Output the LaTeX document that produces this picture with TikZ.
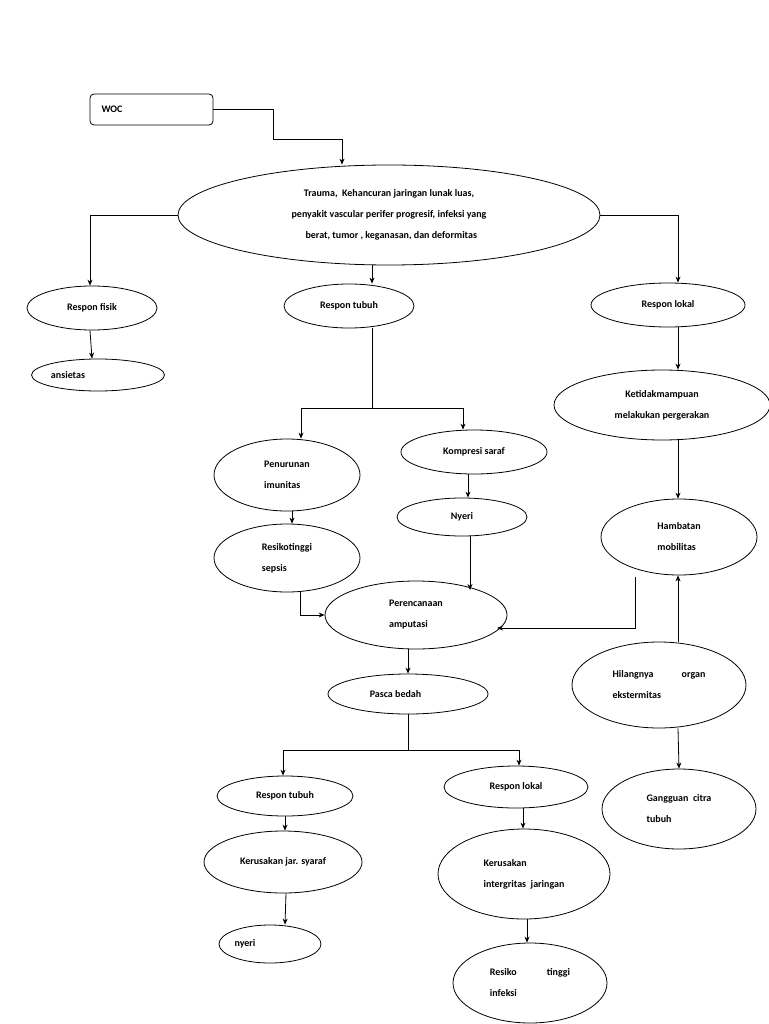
\documentclass[tikz,border=0pt]{standalone}
\usepackage{fontspec}
\setmainfont{Carlito}
\usetikzlibrary{shapes.geometric,arrows.meta}
\begin{document}
\begin{tikzpicture}[x=1pt,y=-1pt,
  el/.style={draw,ellipse,minimum width=2*#1,inner sep=0pt,font=\fontsize{10}{21}\selectfont\bfseries,align=left},
  ar/.style={-{Stealth[length=6pt,width=5pt]},line width=0.8pt},
  ln/.style={line width=0.8pt}]
\useasboundingbox (0,0) rectangle (768,1024);
\tikzset{every node/.append style={line width=0.8pt}}
\node[draw,rounded corners=4pt,minimum width=123,minimum height=31,font=\fontsize{10}{12}\selectfont\bfseries,text width=100] (woc) at (151.5,109.5) {WOC};
\node[el=211,minimum height=100,align=center] (tr) at (389,215) {Trauma,\ \ Kehancuran jaringan lunak luas,\\ penyakit vascular perifer progresif, infeksi yang\\ \ \ berat, tumor , keganasan, dan deformitas};
\node[el=65,minimum height=44] (rf) at (92,308) {Respon fisik};
\node[el=64,minimum height=32] (an) at (98,375) {ansietas\hspace{60pt}};
\node[el=65,minimum height=44] (rt) at (349,306) {Respon tubuh};
\node[el=77,minimum height=44] (rl) at (668,305) {Respon lokal};
\node[el=108,minimum height=70,align=center] (kt) at (662,405) {Ketidakmampuan\\melakukan pergerakan};
\node[el=73,minimum height=72] (pi) at (287,475) {Penurunan\hspace{40pt}\\imunitas};
\node[el=73,minimum height=44] (ks) at (474,452) {Kompresi saraf};
\node[el=65,minimum height=38] (ny) at (462,517) {Nyeri};
\node[el=73,minimum height=68] (rs) at (287,558) {Resikotinggi\hspace{35pt}\\sepsis};
\node[el=78,minimum height=76] (hm) at (679,537) {Hambatan\hspace{35pt}\\mobilitas};
\node[el=91,minimum height=68] (pa) at (416,615) {Perencanaan\hspace{40pt}\\amputasi};
\node[el=87,minimum height=86] (hi) at (659,685) {Hilangnya\hspace{28pt}organ\\ekstermitas};
\node[el=80,minimum height=40] (pb) at (408,694) {Pasca bedah\hspace{25pt}};
\node[el=77,minimum height=80] (gc) at (679,809) {Gangguan\ \ citra\\tubuh};
\node[el=68,minimum height=40] (rt2) at (285,796) {Respon tubuh};
\node[el=72,minimum height=42] (rl2) at (516,787) {Respon lokal};
\node[el=79,minimum height=62] (kj) at (283,862) {Kerusakan jar. syaraf};
\node[el=86,minimum height=90] (ki) at (524,874) {Kerusakan\\intergritas\ \ jaringan};
\node[el=51,minimum height=38] (n2) at (270,944) {nyeri\hspace{50pt}};
\node[el=77,minimum height=80] (ri) at (530,983) {Resiko\hspace{30pt}tinggi\\infeksi};
\coordinate (c1) at (372,408);
\coordinate (c2) at (408,750);
\draw[ar] (woc.east) -- ++(60,0) |- (342,139) -- (tr.north -| 342,0);
\draw[ar] (tr.west) -| (rf.north -| 90,0);
\draw[ar] (tr.east) -| (rl.north -| 678,0);
\draw[ar] (tr.south -| 372,0) -- (rt.north -| 372,0);
\draw[ar] (rf.south -| 90,0) -- (an.north -| 92,0);
\draw[ln] (rt.south -| 372,0) -- (c1);
\draw[ar] (c1) -| (pi.north -| 301,0);
\draw[ar] (c1) -| (ks.north -| 463,0);
\draw[ar] (ks.south -| 468,0) -- (ny.north -| 468,0);
\draw[ar] (pi.south -| 292,0) -- (rs.north -| 292,0);
\draw[ar] (rs.south -| 300,0) |- (pa.west);
\draw[ar] (ny.south -| 470,0) -- (470,590);
\draw[ar] (rl.south -| 678,0) -- (kt.north -| 678,0);
\draw[ar] (kt.south -| 678,0) -- (hm.north -| 678,0);
\draw[ar] (635,577) |- (497,628);
\draw[ar] (hi.north -| 678,0) -- (hm.south -| 678,0);
\draw[ar] (hi.south -| 678,0) -- (gc.north -| 679,0);
\draw[ar] (pa.south -| 408,0) -- (pb.north);
\draw[ln] (pb.south) -- (c2);
\draw[ar] (c2) -| (rt2.north -| 283,0);
\draw[ar] (c2) -| (rl2.north -| 519,0);
\draw[ar] (rt2.south) -- (kj.north -| 285,0);
\draw[ar] (kj.south -| 286,0) -- (n2.north -| 285,0);
\draw[ar] (rl2.south -| 523,0) -- (ki.north -| 523,0);
\draw[ar] (ki.south -| 527,0) -- (ri.north -| 527,0);
\end{tikzpicture}
\end{document}
